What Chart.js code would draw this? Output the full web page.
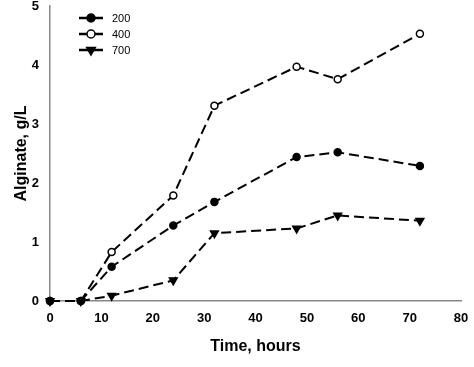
<!DOCTYPE html>
<html lang="en">
<head>
<meta charset="UTF-8">
<title>Alginate</title>
<script src="https://cdn.jsdelivr.net/npm/chart.js"></script>
<style>
  html, body { margin: 0; padding: 0; background: #fff; }
  #wrap { width: 474px; height: 367px; }
</style>
</head>
<body>
<div id="wrap"><canvas id="chart"></canvas></div>
<script>
    var hours = [0, 6, 12, 24, 32, 48, 56, 72];
    var series200 = [0, 0, 0.58, 1.28, 1.68, 2.44, 2.52, 2.29];
    var series400 = [0, 0, 0.83, 1.79, 3.31, 3.97, 3.76, 4.53];
    var series700 = [0, 0, 0.09, 0.35, 1.15, 1.23, 1.45, 1.36];
    var seriesNames = ['200', '400', '700'];

    function pts(vals) {
        return hours.map(function (h, i) { return { x: h, y: vals[i] }; });
    }

    var font = 'Liberation Sans, Arial, sans-serif';

    // legend drawn inside the plot, top left
    var insideLegend = {
        id: 'insideLegend',
        afterDraw: function (chart) {
            var ctx = chart.ctx;
            ctx.save();
            chart.data.datasets.forEach(function (ds, i) {
                var y = 18 + i * 16;
                ctx.strokeStyle = '#000';
                ctx.lineWidth = 2.5;
                ctx.setLineDash([]);
                ctx.beginPath();
                ctx.moveTo(79, y);
                ctx.lineTo(103, y);
                ctx.stroke();
                ctx.fillStyle = ds.pointBackgroundColor;
                ctx.lineWidth = 1.5;
                Chart.helpers.drawPoint(ctx, {
                    pointStyle: ds.pointStyle,
                    radius: ds.pointRadius + 0.5,
                    rotation: ds.rotation || 0,
                    borderWidth: 1.5
                }, 91, y);
                ctx.fillStyle = '#000';
                ctx.font = '11px ' + font;
                ctx.textBaseline = 'middle';
                ctx.fillText(seriesNames[i], 112, y + 1);
            });
            ctx.restore();
        }
    };

    function makeSet(idx, vals, style, fill, rot) {
        return {
            label: seriesNames[idx],
            data: pts(vals),
            borderColor: '#000',
            borderWidth: 2,
            borderDash: [10, 5],
            pointStyle: style,
            rotation: rot || 0,
            pointRadius: style === 'triangle' ? 4.5 : 3.5,
            pointBackgroundColor: fill,
            pointBorderColor: '#000',
            pointBorderWidth: 1.5,
            fill: false,
            clip: false,
            tension: 0
        };
    }

    var ctx = document.getElementById('chart').getContext('2d');
    var chart = new Chart(ctx, {
        type: 'line',
        data: {
            datasets: [
                makeSet(0, series200, 'circle', '#000'),
                makeSet(1, series400, 'circle', '#fff'),
                makeSet(2, series700, 'triangle', '#000', 180)
            ]
        },
        options: {
            responsive: true,
            maintainAspectRatio: false,
            animation: false,
            layout: { padding: { top: 6, right: 13, left: 0, bottom: 0 } },
            plugins: { legend: { display: false }, tooltip: { enabled: false } },
            scales: {
                x: {
                    type: 'linear',
                    min: 0, max: 80,
                    ticks: { stepSize: 10, color: '#000', font: { family: font, size: 13, weight: 'bold' }, padding: 5, maxRotation: 0 },
                    grid: { display: false, drawOnChartArea: false, drawTicks: true, tickLength: 5, color: '#888' },
                    border: { color: '#888', width: 1.5 },
                    title: { display: true, text: 'Time, hours', color: '#000', font: { family: font, size: 16, weight: 'bold' }, padding: { top: 4, bottom: 11 } },
                    afterFit: function (s) { s.height = 66; s.paddingRight = 0; s.paddingLeft = 0; }
                },
                y: {
                    min: 0, max: 5,
                    ticks: { stepSize: 1, color: '#000', font: { family: font, size: 13, weight: 'bold' }, padding: 6 },
                    grid: { display: false, drawOnChartArea: false, drawTicks: true, tickLength: 5, color: '#888' },
                    border: { color: '#888', width: 1.5 },
                    title: { display: true, text: 'Alginate, g/L', color: '#000', font: { family: font, size: 16, weight: 'bold' }, padding: { top: 12, bottom: 6 } },
                    afterFit: function (s) { s.width = 50; s.paddingTop = 0; s.paddingBottom = 0; }
                }
            }
        },
        plugins: [insideLegend]
    });
</script>
</body>
</html>
